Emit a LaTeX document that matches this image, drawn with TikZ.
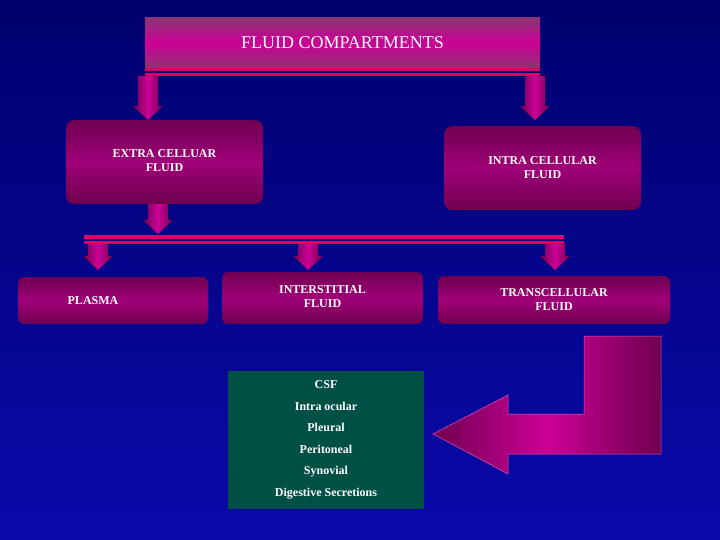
\documentclass[tikz,border=0pt]{standalone}
\usepackage{fontspec}
\setmainfont{Liberation Serif}
\usetikzlibrary{calc}
\definecolor{mag}{RGB}{205,0,150}
\definecolor{dmag}{RGB}{110,0,80}
\definecolor{navy}{RGB}{0,0,110}
\definecolor{bblue}{RGB}{10,10,170}
\definecolor{teal}{RGB}{0,80,70}
\tikzset{
 box/.style={rounded corners=8pt,top color=dmag,bottom color=dmag,middle color={rgb,255:red,160;green,0;blue,120},shading angle=0,draw=none,text=white,font=\bfseries\fontsize{12}{14}\selectfont,align=center,inner sep=0pt},
 arr/.style={left color=dmag,right color=dmag,middle color=mag,draw=none},
 bar/.style={fill={rgb,255:red,220;green,0;blue,100}}
}
\newcommand{\barrow}[3]{%
 \fill[arr] (#1-10,#2) -- (#1+10,#2) -- (#1+10,#3-14) -- (#1+15,#3-14) -- (#1,#3) -- (#1-15,#3-14) -- (#1-10,#3-14) -- cycle;}
\begin{document}
\begin{tikzpicture}[x=1pt,y=-1pt]
\shade[top color=navy,bottom color=bblue] (0,0) rectangle (720,540);
\useasboundingbox (0,0) rectangle (720,540);
\node[fill=none,minimum width=395pt,minimum height=50pt,top color=dmag!80,bottom color=dmag!80,middle color=mag,text=white,font=\fontsize{18}{20}\selectfont] (title) at (342.5,43) {FLUID COMPARTMENTS};
\fill[bar] (145,68) rectangle (540,71); \fill[bar] (145,73) rectangle (540,76);
\node[box,minimum width=197pt,minimum height=84pt] (ecf) at (164.5,162) {\raisebox{10pt}{\begin{tabular}{c}EXTRA CELLUAR\\FLUID\end{tabular}}};
\node[box,minimum width=197pt,minimum height=84pt] (icf) at (542.5,168) {INTRA CELLULAR\\FLUID};
\barrow{148}{76}{120}
\barrow{535}{76}{120}
\barrow{158}{204}{234}
\fill[bar] (84,235) rectangle (564,239); \fill[bar] (84,241) rectangle (564,244);
\barrow{98}{244}{270}
\barrow{308}{244}{270}
\barrow{555}{244}{270}
\node[box,minimum width=190pt,minimum height=47pt,rounded corners=6pt] (pl) at (113,300.5) {\hspace*{-40pt}PLASMA};
\node[box,minimum width=201pt,minimum height=52pt,rounded corners=6pt] (is) at (322.5,298) {\raisebox{6pt}{\begin{tabular}{c}INTERSTITIAL\\FLUID\end{tabular}}};
\node[box,minimum width=232pt,minimum height=48pt,rounded corners=6pt] (tc) at (554,300) {TRANSCELLULAR\\FLUID};
\node[fill=teal,minimum width=196pt,minimum height=138pt,text=white,font=\bfseries\fontsize{12}{21.5}\selectfont,align=center] (gr) at (326,440) {CSF\\Intra ocular\\Pleural\\Peritoneal\\Synovial\\Digestive Secretions};
\shade[left color=dmag,right color=dmag,middle color=mag,draw={rgb,255:red,230;green,80;blue,200},line width=0.5pt]
 (433,434) -- (508,395) -- (508,414) -- (584,414) -- (584,336) -- (661,336) -- (661,454) -- (508,454) -- (508,474) -- cycle;
\end{tikzpicture}
\end{document}
